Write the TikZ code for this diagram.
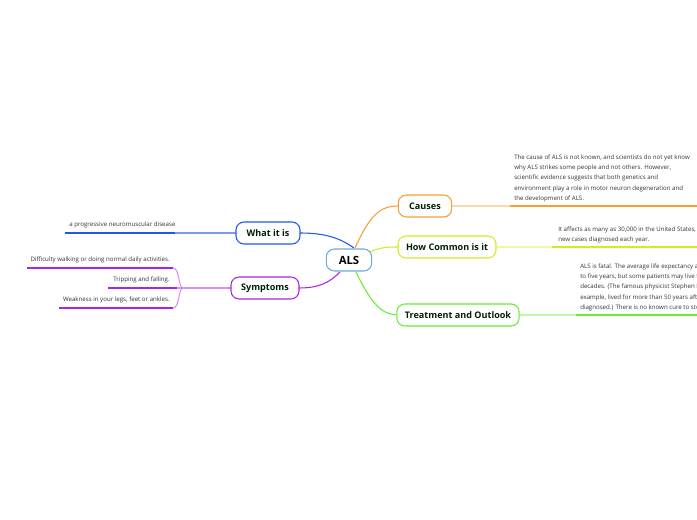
\documentclass[tikz,border=0pt]{standalone}
\usepackage{fontspec}
\setmainfont{Open Sans}
\begin{document}
\begin{tikzpicture}[x=0.75pt,y=-0.75pt,
 topic/.style={draw=#1,line width=0.8pt,rounded corners=6pt,fill=white,minimum height=16.5pt,font=\fontsize{6.8}{8}\selectfont\bfseries,text=black!70!green!40!black,inner xsep=6pt},
 leaf/.style={font=\fontsize{4.6}{7.6}\selectfont,inner sep=0pt,align=left,text=black!80},
 br/.style={draw=#1,line width=0.8pt}]
\useasboundingbox (0,0) rectangle (697,520);
\clip (0,0) rectangle (697,520);
\definecolor{cO}{HTML}{F7A030}\definecolor{cY}{HTML}{CCEE22}\definecolor{cG}{HTML}{66EE33}
\definecolor{cB}{HTML}{2255EE}\definecolor{cP}{HTML}{AA22EE}\definecolor{cA}{HTML}{70AADD}
% coordinates
\coordinate (wA) at (236,233); \coordinate (wE) at (65,233);
\coordinate (sA) at (231,288); \coordinate (sJ) at (183,288);
\coordinate (s1) at (27,268); \coordinate (s1e) at (173,268);
\coordinate (s2) at (108,288); \coordinate (s2e) at (177,288);
\coordinate (s3) at (59,308); \coordinate (s3e) at (173,308);
\coordinate (cE) at (697,206); \coordinate (hE) at (697,247); \coordinate (tE) at (697,315);
% branches
\draw[br=cB] (354,248) .. controls (340,238) and (325,233) .. (300,233);
\draw[br=cP] (340,272) .. controls (330,282) and (320,288) .. (299,288);
\draw[br=cO] (355,248) .. controls (370,215) and (380,206) .. (398,206);
\draw[br=cY] (370,252) .. controls (380,247) and (390,247) .. (398,247);
\draw[br=cG] (356,272) .. controls (372,305) and (382,315) .. (399,315);
% leaf lines
\draw[br=cB!60] (wA) -- (wE); \draw[cB,line width=1pt] (175,233) -- (wE);
\draw[br=cP!50] (sA) -- (sJ);
\draw[br=cP!50] (sJ) .. controls (178,288) and (180,268) .. (s1e);
\draw[br=cP!50] (sJ) -- (s2e);
\draw[br=cP!50] (sJ) .. controls (178,288) and (180,308) .. (s3e);
\draw[cP,line width=1pt] (s1) -- (s1e) (s2) -- (s2e) (s3) -- (s3e);
\draw[br=cO!40] (452,206) -- (cE); \draw[cO,line width=1pt] (510,206) -- (cE);
\draw[br=cY!40] (497,247) -- (hE); \draw[cY,line width=1pt] (552,247) -- (hE);
\draw[br=cG!40] (517,315) -- (tE); \draw[cG,line width=1pt] (576,315) -- (tE);
% nodes
\node[topic=cA,minimum width=34pt,font=\fontsize{8.5}{10}\selectfont\bfseries,text=black] (als) at (349,260) {ALS};
\node[topic=cB,minimum width=48pt] (what) at (268,233) {What it is};
\node[topic=cP,minimum width=51pt] (sym) at (265,288) {Symptoms};
\node[topic=cO,minimum width=40pt] (cau) at (425,206) {Causes};
\node[topic=cY,minimum width=73pt] (how) at (447,247) {How Common is it};
\node[topic=cG,minimum width=88pt] (tre) at (458,315) {Treatment and Outlook};
% leaf texts
\node[leaf,anchor=south west] (t1) at (69,228) {a progressive neuromuscular disease};
\node[leaf,anchor=south east] (t2) at (170,263.5) {Difficulty walking or doing normal daily activities.};
\node[leaf,anchor=south east] (t3) at (170,283.5) {Tripping and falling.};
\node[leaf,anchor=south east] (t4) at (170,303.5) {Weakness in your legs, feet or ankles.};
\node[leaf,anchor=south west] (t5) at (514,202) {The cause of ALS is not known, and scientists do not yet know\\why ALS strikes some people and not others. However,\\scientific evidence suggests that both genetics and\\environment play a role in motor neuron degeneration and\\the development of ALS.};
\node[leaf,anchor=south west] (t6) at (558,243.5) {It affects as many as 30,000 in the United States, with 5,000\\new cases diagnosed each year.};
\node[leaf,anchor=south west] (t7) at (580,311) {ALS is fatal. The average life expectancy after diagnosis is two\\to five years, but some patients may live for years or even\\decades. (The famous physicist Stephen Hawking, for\\example, lived for more than 50 years after he was\\diagnosed.) There is no known cure to stop or reverse ALS.};
\end{tikzpicture}
\end{document}
